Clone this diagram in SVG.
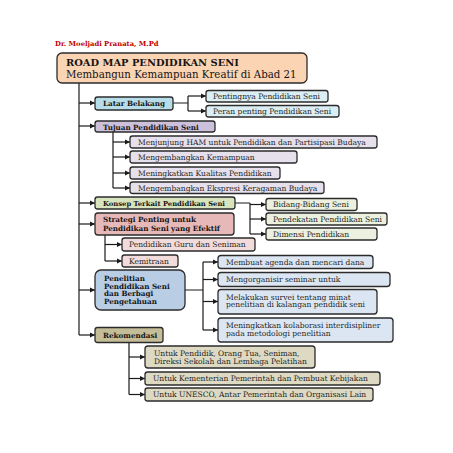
<svg xmlns="http://www.w3.org/2000/svg" width="453" height="453" viewBox="0 0 453 453">
<defs>
<marker id="ar" markerWidth="6" markerHeight="6" refX="5" refY="3" orient="auto" markerUnits="userSpaceOnUse">
<path d="M0,0.5 L5,3 L0,5.5 Z" fill="#1a1a1a"/>
</marker>
</defs>
<style>
.b{stroke:#2b2b2b;stroke-width:1.3}
.t{font-family:"DejaVu Serif","Liberation Serif",serif;font-size:7.55px;fill:#262626}
.h{font-family:"DejaVu Serif","Liberation Serif",serif;font-size:7.2px;font-weight:bold;fill:#151515}
.c line,.c path{stroke:#1a1a1a;stroke-width:1.2;fill:none}
.pe{fill:#fbd4b4}.lb{fill:#b7dee8}.lbs{fill:#daeef3}.tu{fill:#ccc0da}.tus{fill:#e5e0ec}
.ko{fill:#d7e4bd}.kos{fill:#ebf1de}.st{fill:#e6b9b8}.sts{fill:#f2dcdb}.pn{fill:#b9cde5}.pns{fill:#dce6f2}
.re{fill:#c4bd97}.res{fill:#ddd9c3}
</style>
<rect width="453" height="453" fill="#fff"/>
<text x="55" y="46" style="font-family:'DejaVu Serif','Liberation Serif',serif;font-size:6.8px;font-weight:bold;fill:#c00000">Dr. Moeljadi Pranata, M.Pd</text>

<g class="c">
<line x1="79" y1="83" x2="79" y2="335"/>
<line x1="79" y1="103" x2="95" y2="103" marker-end="url(#ar)"/>
<line x1="79" y1="126" x2="95" y2="126" marker-end="url(#ar)"/>
<line x1="79" y1="203" x2="95" y2="203" marker-end="url(#ar)"/>
<line x1="79" y1="224" x2="95" y2="224" marker-end="url(#ar)"/>
<line x1="79" y1="290" x2="95" y2="290" marker-end="url(#ar)"/>
<line x1="79" y1="335" x2="95" y2="335" marker-end="url(#ar)"/>
<path d="M173,103 H188 M188,96 V111"/>
<line x1="188" y1="96" x2="206" y2="96" marker-end="url(#ar)"/>
<line x1="188" y1="111" x2="206" y2="111" marker-end="url(#ar)"/>
<path d="M113,132 V188"/>
<line x1="113" y1="142" x2="130" y2="142" marker-end="url(#ar)"/>
<line x1="113" y1="157" x2="130" y2="157" marker-end="url(#ar)"/>
<line x1="113" y1="173" x2="130" y2="173" marker-end="url(#ar)"/>
<line x1="113" y1="188" x2="130" y2="188" marker-end="url(#ar)"/>
<path d="M235,203 H250 M250,203 V234"/>
<line x1="250" y1="204.5" x2="266" y2="204.5" marker-end="url(#ar)"/>
<line x1="250" y1="219" x2="266" y2="219" marker-end="url(#ar)"/>
<line x1="250" y1="234" x2="266" y2="234" marker-end="url(#ar)"/>
<path d="M105,235 V261"/>
<line x1="105" y1="244.5" x2="122" y2="244.5" marker-end="url(#ar)"/>
<line x1="105" y1="261" x2="122" y2="261" marker-end="url(#ar)"/>
<path d="M185,290 H203 M203,262 V330"/>
<line x1="203" y1="262" x2="218" y2="262" marker-end="url(#ar)"/>
<line x1="203" y1="279.5" x2="218" y2="279.5" marker-end="url(#ar)"/>
<line x1="203" y1="301.5" x2="218" y2="301.5" marker-end="url(#ar)"/>
<line x1="203" y1="330" x2="218" y2="330" marker-end="url(#ar)"/>
<path d="M129,343 V394.5"/>
<line x1="129" y1="357" x2="145" y2="357" marker-end="url(#ar)"/>
<line x1="129" y1="378.5" x2="145" y2="378.5" marker-end="url(#ar)"/>
<line x1="129" y1="394.5" x2="145" y2="394.5" marker-end="url(#ar)"/>
</g>

<g id="title">
<rect class="b pe" x="57" y="53" width="250" height="30" rx="5"/>
<text x="66" y="66" style="font-family:'DejaVu Serif','Liberation Serif',serif;font-size:9.9px;font-weight:bold;fill:#151515">ROAD MAP PENDIDIKAN SENI</text>
<text x="66" y="78" style="font-family:'DejaVu Serif','Liberation Serif',serif;font-size:10.2px;fill:#151515">Membangun Kemampuan Kreatif di Abad 21</text>
</g>

<g id="latar">
<rect class="b lb" x="95" y="97" width="78" height="13" rx="2.5"/>
<text class="h" x="103" y="106">Latar Belakang</text>
</g>
<g id="latar1"><rect class="b lbs" x="206" y="90.5" width="122" height="11.5" rx="2.5"/><text class="t" x="213" y="99">Pentingnya Pendidikan Seni</text></g>
<g id="latar2"><rect class="b lbs" x="206" y="105.5" width="133" height="11.5" rx="2.5"/><text class="t" x="213" y="114">Peran penting Pendidikan Seni</text></g>

<g id="tujuan">
<rect class="b tu" x="95" y="121" width="120" height="11" rx="2.5"/>
<text class="h" x="103" y="129.5">Tujuan Pendidikan Seni</text>
</g>
<g id="tujuan1"><rect class="b tus" x="130" y="136" width="247" height="12" rx="2.5"/><text class="t" x="138" y="144.8">Menjunjung HAM untuk Pendidikan dan Partisipasi Budaya</text></g>
<g id="tujuan2"><rect class="b tus" x="130" y="151" width="167" height="12" rx="2.5"/><text class="t" x="138" y="159.8">Mengembangkan Kemampuan</text></g>
<g id="tujuan3"><rect class="b tus" x="130" y="167" width="150" height="12" rx="2.5"/><text class="t" x="138" y="175.8">Meningkatkan Kualitas Pendidikan</text></g>
<g id="tujuan4"><rect class="b tus" x="130" y="182" width="194" height="11.5" rx="2.5"/><text class="t" x="138" y="190.8">Mengembangkan Ekspresi Keragaman Budaya</text></g>

<g id="konsep">
<rect class="b ko" x="95" y="197" width="140" height="12" rx="2.5"/>
<text class="h" x="103" y="205.7" style="font-size:6.8px">Konsep Terkait Pendidikan Seni</text>
</g>
<g id="konsep1"><rect class="b kos" x="266" y="198.5" width="91" height="12" rx="2.5"/><text class="t" x="273" y="207.3">Bidang-Bidang Seni</text></g>
<g id="konsep2"><rect class="b kos" x="266" y="213" width="121" height="12" rx="2.5"/><text class="t" x="273" y="221.8">Pendekatan Pendidikan Seni</text></g>
<g id="konsep3"><rect class="b kos" x="266" y="228" width="111" height="12" rx="2.5"/><text class="t" x="273" y="236.8">Dimensi Pendidikan</text></g>

<g id="strategi">
<rect class="b st" x="95" y="213" width="139" height="22" rx="3"/>
<text class="h" x="103" y="222">Strategi Penting untuk</text>
<text class="h" x="103" y="231">Pendidikan Seni yang Efektif</text>
</g>
<g id="strategi1"><rect class="b sts" x="122" y="238" width="133" height="13" rx="2.5"/><text class="t" x="129" y="247.3">Pendidikan Guru dan Seniman</text></g>
<g id="strategi2"><rect class="b sts" x="122" y="255" width="56" height="12" rx="2.5"/><text class="t" x="129" y="263.8">Kemitraan</text></g>

<g id="penelitian">
<rect class="b pn" x="95" y="270" width="90" height="40" rx="6"/>
<text class="h" x="104" y="281">Penelitian</text>
<text class="h" x="104" y="288.7">Pendidikan Seni</text>
<text class="h" x="104" y="296.4">dan Berbagi</text>
<text class="h" x="104" y="304.1">Pengetahuan</text>
</g>
<g id="pen1"><rect class="b pns" x="218" y="255.5" width="155" height="13" rx="3"/><text class="t" x="226" y="264.8">Membuat agenda dan mencari dana</text></g>
<g id="pen2"><rect class="b pns" x="218" y="272.5" width="172" height="14" rx="3"/><text class="t" x="226" y="282.3">Mengorganisir seminar untuk</text></g>
<g id="pen3"><rect class="b pns" x="218" y="289.5" width="159" height="24.5" rx="3"/><text class="t" x="226" y="299.5">Melakukan survei tentang minat</text><text class="t" x="226" y="307.3">penelitian di kalangan pendidik seni</text></g>
<g id="pen4"><rect class="b pns" x="218" y="318" width="175" height="24" rx="3"/><text class="t" x="226" y="328">Meningkatkan kolaborasi interdisipliner</text><text class="t" x="226" y="335.8">pada metodologi penelitian</text></g>

<g id="rekomendasi">
<rect class="b re" x="95" y="327.5" width="68" height="15" rx="2.5"/>
<text class="h" x="103" y="337.5">Rekomendasi</text>
</g>
<g id="rek1"><rect class="b res" x="145" y="346" width="170" height="22" rx="3"/><text class="t" x="154" y="355.5">Untuk Pendidik, Orang Tua, Seniman,</text><text class="t" x="154" y="364">Direksi Sekolah dan Lembaga Pelatihan</text></g>
<g id="rek2"><rect class="b res" x="145" y="372" width="235" height="13" rx="2.5"/><text class="t" x="153" y="381.3">Untuk Kementerian Pemerintah dan Pembuat Kebijakan</text></g>
<g id="rek3"><rect class="b res" x="145" y="388" width="228" height="13" rx="2.5"/><text class="t" x="153" y="397.3">Untuk UNESCO, Antar Pemerintah dan Organisasi Lain</text></g>
</svg>
